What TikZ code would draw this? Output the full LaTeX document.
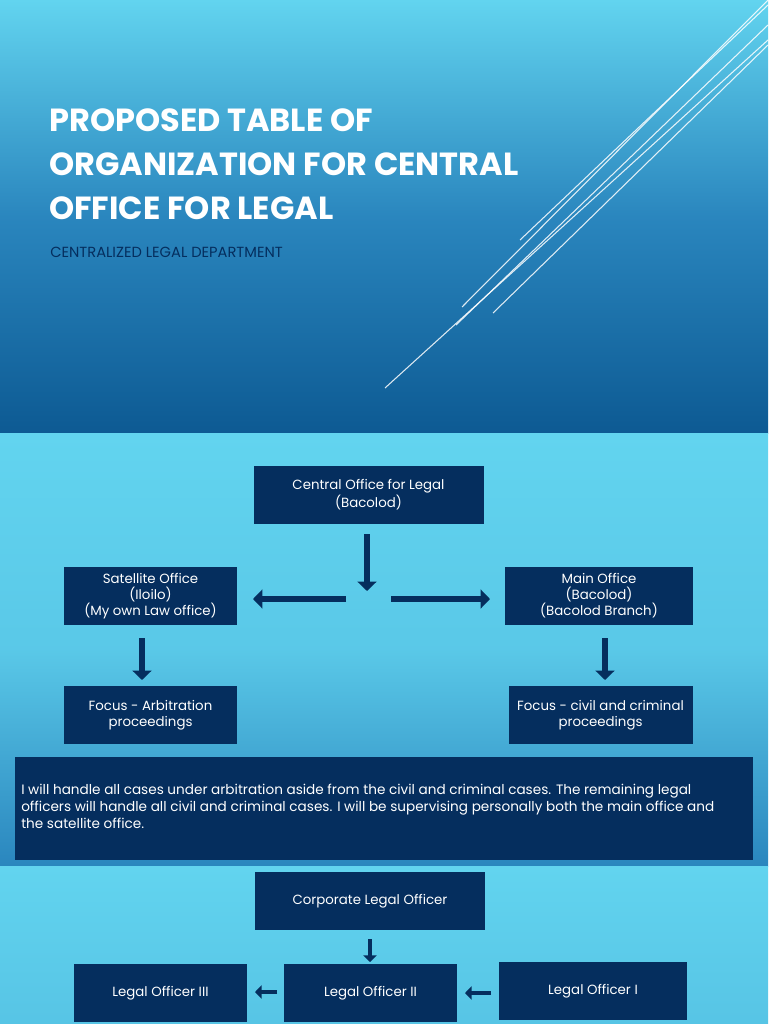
\documentclass[tikz,border=0pt]{standalone}
\usepackage{fontspec}
\setmainfont{Poppins}
\usetikzlibrary{arrows.meta}
\definecolor{navy}{HTML}{052E5E}
\definecolor{cyanb}{HTML}{62D4EF}
\definecolor{deepb}{HTML}{0D5A93}
\definecolor{midb}{HTML}{2A86BE}
\begin{document}
\begin{tikzpicture}[x=0.75pt,y=-0.75pt,
  box/.style={fill=navy,text=white,font=\fontsize{10}{12}\selectfont,align=center,inner sep=0pt},
  arr/.style={draw=navy,line width=4.5pt,-{Triangle[length=7pt,width=14pt]}},
  sarr/.style={draw=navy,line width=3.5pt,-{Triangle[length=5pt,width=10pt]}},
  wl/.style={draw=white,line width=0.8pt,opacity=0.85}]
\useasboundingbox (0,0) rectangle (768,1024);
% slide 1
\shade[top color=cyanb,bottom color=deepb,middle color=midb] (0,0) rectangle (768,433);
\draw[wl] (385,388) -- (768,40);
\draw[wl] (462,307) -- (768,0);
\draw[wl] (456,325) -- (768,25);
\draw[wl] (493,313) -- (768,45);
\draw[wl] (520,240) -- (768,5);
\node[anchor=north west,text=white,font=\bfseries\fontsize{24}{33}\selectfont,align=left,inner sep=0pt] (title) at (49,108) {PROPOSED TABLE OF\\ORGANIZATION FOR CENTRAL\\OFFICE FOR LEGAL};
\node[anchor=north west,text=navy,font=\fontsize{11}{12}\selectfont,inner sep=0pt] (sub) at (50,247) {CENTRALIZED LEGAL DEPARTMENT};
% slide 2
\shade[top color=cyanb,bottom color=midb,middle color=cyanb!85!midb] (0,433) rectangle (768,866);
\node[box,minimum width=172.5pt,minimum height=43.5pt] (co) at (368.5,494.5) {Central Office for Legal\\(Bacolod)};
\node[box,minimum width=130pt,minimum height=44pt] (sat) at (150.5,596) {Satellite Office\\(Iloilo)\\(My own Law office)};
\node[box,minimum width=141pt,minimum height=44pt] (main) at (599,596) {Main Office\\(Bacolod)\\(Bacolod Branch)};
\node[box,minimum width=130pt,minimum height=44pt] (fa) at (150.5,715) {Focus - Arbitration\\proceedings};
\node[box,minimum width=138pt,minimum height=44pt] (fc) at (600.5,715) {Focus - civil and criminal\\proceedings};
\coordinate (p1) at (367,534); \coordinate (q1) at (367,591);
\coordinate (p2) at (346,599); \coordinate (q2) at (253,599);
\coordinate (p3) at (391,599); \coordinate (q3) at (490,599);
\coordinate (p4) at (142,638); \coordinate (q4) at (142,680);
\coordinate (p5) at (605,638); \coordinate (q5) at (605,680);
\draw[arr] (p1) -- (q1);
\draw[arr] (p2) -- (q2);
\draw[arr] (p3) -- (q3);
\draw[arr] (p4) -- (q4);
\draw[arr] (p5) -- (q5);
\node[fill=navy,minimum width=553.5pt,minimum height=77pt,inner sep=0pt] (txt) at (384,808.5) {};
\node[anchor=north west,text=white,font=\fontsize{10.2}{12.8}\selectfont,align=left,inner sep=0pt] (t) at (21,784) {I will handle all cases under arbitration aside from the civil and criminal cases. The remaining legal\\officers will handle all civil and criminal cases. I will be supervising personally both the main office and\\the satellite office.};
% slide 3
\shade[top color=cyanb,bottom color=cyanb!80!midb] (0,866) rectangle (768,1024);
\node[box,minimum width=172.5pt,minimum height=43.5pt] (clo) at (370,901) {Corporate Legal Officer};
\node[box,minimum width=130pt,minimum height=44pt] (l3) at (160.5,993) {Legal Officer III};
\node[box,minimum width=130pt,minimum height=44pt] (l2) at (370.5,993) {Legal Officer II};
\node[box,minimum width=141pt,minimum height=44pt] (l1) at (593,991) {Legal Officer I};
\coordinate (c1) at (370,939); \coordinate (d1) at (370,962);
\coordinate (c2) at (277,992); \coordinate (d2) at (255,992);
\coordinate (c3) at (491,993); \coordinate (d3) at (465,993);
\draw[sarr] (c1) -- (d1);
\draw[sarr] (c2) -- (d2);
\draw[sarr] (c3) -- (d3);
\end{tikzpicture}
\end{document}
